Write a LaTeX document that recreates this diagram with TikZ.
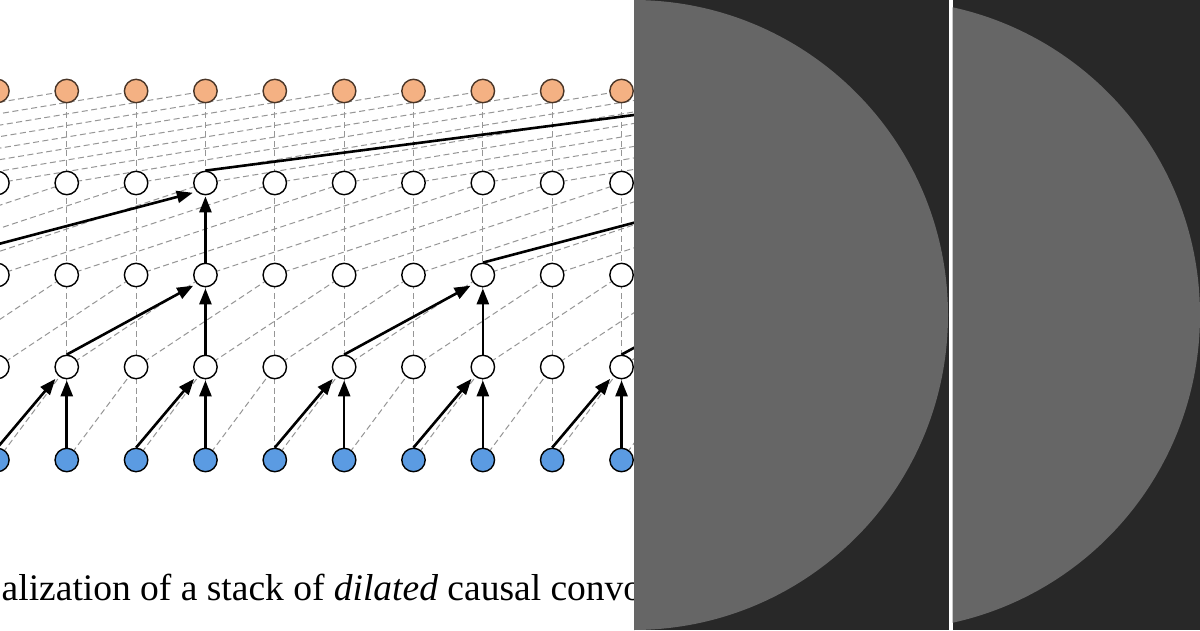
\documentclass[tikz,border=0pt]{standalone}
\usepackage{fontspec}
\setmainfont{Liberation Serif}
\usetikzlibrary{arrows.meta}
\definecolor{orangefill}{RGB}{244,177,131}
\definecolor{bluefill}{RGB}{91,155,226}
\definecolor{dashgray}{RGB}{150,150,150}
\definecolor{panel}{RGB}{40,40,40}
\definecolor{disc}{RGB}{102,102,102}
\pgfdeclarelayer{bg}
\pgfdeclarelayer{paper}
\pgfsetlayers{paper,bg,main}
\begin{document}
\begin{tikzpicture}[x=1pt,y=-1pt,
  unit/.style={circle,draw=black,line width=1.4pt,minimum size=23.4pt,inner sep=0pt},
  hid/.style={unit,fill=white},
  inp/.style={unit,fill=bluefill},
  outp/.style={unit,fill=orangefill,draw=black!70!orangefill},
  conn/.style={dashgray,line width=1pt,dash pattern=on 6pt off 3.5pt},
  link/.style={line width=2.6pt,-{Triangle[length=16pt,width=12pt]}},
  diaglink/.style={link,shorten >=4pt},
  vertlink/.style={link,shorten >=1pt}
]
\useasboundingbox (0,0) rectangle (1200,630);
\begin{pgfonlayer}{paper}
\fill[white] (0,0) rectangle (1200,630);
\end{pgfonlayer}
\begin{scope}
\clip (0,0) rectangle (634,630);
% units of the five layers
\foreach \k in {-12,...,21} {
  \pgfmathtruncatemacro\n{\k+20}
  \pgfmathsetmacro\xx{-2.6+69.35*\k}
  \node[inp]  (in\n)  at (\xx,460) {};
  \node[hid]  (ha\n)  at (\xx,367) {};
  \node[hid]  (hb\n)  at (\xx,275) {};
  \node[hid]  (hc\n)  at (\xx,183) {};
  \node[outp] (out\n) at (\xx,91) {};
}
% dashed background connections
\begin{pgfonlayer}{bg}
\clip (0,0) rectangle (634,630);
\foreach \k in {-12,...,13} {
  \pgfmathtruncatemacro\n{\k+20}
  \pgfmathtruncatemacro\a{\n+1}
  \pgfmathtruncatemacro\b{\n+2}
  \pgfmathtruncatemacro\c{\n+4}
  \pgfmathtruncatemacro\d{\n+8}
  \draw[conn] (in\n.center) -- (out\n.center);
  \draw[conn] (in\n.center) -- (ha\a.center);
  \draw[conn] (ha\n.center) -- (hb\b.center);
  \draw[conn] (hb\n.center) -- (hc\c.center);
  \draw[conn] (hc\n.center) -- (out\d.center);
}
\end{pgfonlayer}
% solid arrows: input -> hidden 1 (dilation 1)
\foreach \j in {-1,1,3,5,7,9,11} {
  \pgfmathtruncatemacro\n{\j+20}
  \pgfmathtruncatemacro\m{\n-1}
  \draw[diaglink] (in\m.north) -- (ha\n.south west);
  \draw[vertlink] (in\n.north) -- (ha\n.south);
}
% hidden 1 -> hidden 2 (dilation 2)
\foreach \j in {-1,3,7,11} {
  \pgfmathtruncatemacro\n{\j+20}
  \pgfmathtruncatemacro\m{\n-2}
  \draw[diaglink] (ha\m.north) -- (hb\n.south west);
  \draw[vertlink] (ha\n.north) -- (hb\n.south);
}
% hidden 2 -> hidden 3 (dilation 4)
\foreach \j in {3,11} {
  \pgfmathtruncatemacro\n{\j+20}
  \pgfmathtruncatemacro\m{\n-4}
  \draw[diaglink] (hb\m.north) -- (hc\n.south west);
  \draw[vertlink] (hb\n.north) -- (hc\n.south);
}
% hidden 3 -> output (dilation 8)
\draw[diaglink] (hc23.north) -- (out31.south west);
\draw[vertlink] (hc31.north) -- (out31.south);
% caption
\node[anchor=base west,inner sep=0pt,font=\fontsize{37.5}{45}\selectfont] (cap) at (1.5,600) {alization of a stack of \textit{dilated} causal convo};
\end{scope}
% right-hand dark panels
\fill[panel] (634,0) rectangle (1200,630);
\begin{scope}
\clip (634,0) rectangle (949,630);
\fill[disc] (633,315) circle (315pt);
\end{scope}
\fill[white] (949,0) rectangle (952.5,630);
\begin{scope}
\clip (952.5,0) rectangle (1200,630);
\fill[disc] (885,315) circle (315pt);
\end{scope}
\end{tikzpicture}
\end{document}
